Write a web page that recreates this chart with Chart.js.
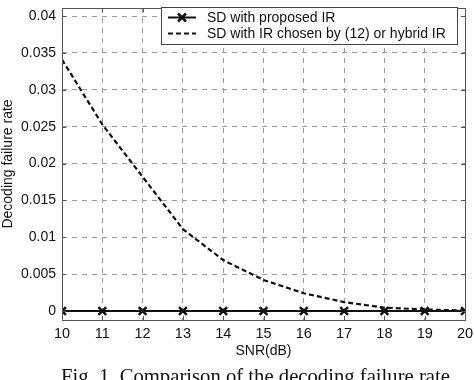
<!DOCTYPE html>
<html>
<head>
<meta charset="utf-8">
<script src="https://cdn.jsdelivr.net/npm/chart.js@4"></script>
<style>
  html, body { margin: 0; padding: 0; background: #fff; }
  #wrap { position: relative; width: 474px; height: 380px; }
</style>
</head>
<body>
<div id="wrap"><canvas id="grafico" width="474" height="380"></canvas></div>
<script>
// datos
const snr = [10, 11, 12, 13, 14, 15, 16, 17, 18, 19, 20];
const propuesto = [0, 0, 0, 0, 0, 0, 0, 0, 0, 0, 0];
const hibrido = [0.0341, 0.0253, 0.0182, 0.0111, 0.0069, 0.0042, 0.0024, 0.0012, 0.00045, 0.0002, 0.00005];
const yTicks = [0, 0.005, 0.01, 0.015, 0.02, 0.025, 0.03, 0.035, 0.04];
const yTickLabels = ['0', '0.005', '0.01', '0.015', '0.02', '0.025', '0.03', '0.035', '0.04'];
const leyendas = ['SD with proposed IR', 'SD with IR chosen by (12) or hybrid IR'];
const pie = 'Fig. 1. Comparison of the decoding failure rate';

const fuente = "'Liberation Sans', Arial, sans-serif";

// caja alrededor del area de la grafica y marcas hacia dentro (estilo matlab)
const cajaPlugin = {
    id: 'caja',
    afterDraw(chart) {
        const c = chart.ctx, a = chart.chartArea;
        const sx = chart.scales.x, sy = chart.scales.y;
        c.save();
        c.strokeStyle = '#555';
        c.lineWidth = 1;
        c.strokeRect(a.left + 0.5, a.top + 0.5, a.right - a.left, a.bottom - a.top);
        c.beginPath();
        yTicks.forEach(function(v) {
            const y = Math.round(sy.getPixelForValue(v)) + 0.5;
            c.moveTo(a.left, y); c.lineTo(a.left + 4, y);
            c.moveTo(a.right, y); c.lineTo(a.right - 4, y);
        });
        snr.forEach(function(v) {
            const x = Math.round(sx.getPixelForValue(v)) + 0.5;
            c.moveTo(x, a.bottom); c.lineTo(x, a.bottom - 4);
            c.moveTo(x, a.top); c.lineTo(x, a.top + 4);
        });
        c.stroke();
        c.restore();
    }
};

// leyenda dentro de la grafica
const leyendaPlugin = {
    id: 'leyendaDentro',
    afterDraw(chart) {
        const c = chart.ctx;
        c.save();
        c.fillStyle = '#fff';
        c.fillRect(161, 7, 296, 37);
        c.strokeStyle = '#444';
        c.lineWidth = 1;
        c.strokeRect(161.5, 7.5, 296, 37);
        c.font = '14px ' + fuente;
        c.textBaseline = 'middle';
        chart.data.datasets.forEach(function(ds, i) {
            const y = 17.5 + i * 16;
            c.strokeStyle = ds.borderColor;
            c.lineWidth = ds.borderWidth;
            c.setLineDash(ds.borderDash || []);
            c.beginPath();
            c.moveTo(168, y);
            c.lineTo(196, y);
            c.stroke();
            c.setLineDash([]);
            if (ds.pointStyle === 'crossRot') {
                c.lineWidth = 2.5;
                c.beginPath();
                c.moveTo(178, y - 4); c.lineTo(186, y + 4);
                c.moveTo(178, y + 4); c.lineTo(186, y - 4);
                c.stroke();
            }
            c.fillStyle = '#111';
            c.fillText(ds.label, 207, y + 1);
        });
        c.restore();
    }
};

// texto del pie de figura
const piePlugin = {
    id: 'pie',
    afterDraw(chart) {
        const c = chart.ctx;
        c.save();
        c.font = "20.7px 'Liberation Serif', 'Times New Roman', serif";
        c.fillStyle = '#111';
        c.textBaseline = 'alphabetic';
        c.fillText(pie, 61, 383);
        c.restore();
    }
};

const ctx = document.getElementById('grafico').getContext('2d');
const miGrafico = new Chart(ctx, {
    type: 'line',
    data: {
        labels: snr,
        datasets: [{
            label: leyendas[0],
            data: propuesto,
            borderColor: '#111',
            borderWidth: 2,
            pointStyle: 'crossRot',
            pointRadius: 5.5,
            pointBorderWidth: 2.5,
            pointBorderColor: '#111',
            fill: false,
            tension: 0
        }, {
            label: leyendas[1],
            data: hibrido,
            borderColor: '#111',
            borderWidth: 2.2,
            borderDash: [5, 3],
            pointRadius: 0,
            fill: false,
            tension: 0
        }]
    },
    options: {
        responsive: false,
        animation: false,
        layout: { padding: { left: 0, right: 9, top: 0, bottom: 20 } },
        plugins: {
            legend: { display: false },
            tooltip: { enabled: false }
        },
        scales: {
            x: {
                type: 'linear',
                min: 10,
                max: 20,
                afterBuildTicks: function(scale) {
                    scale.ticks = snr.map(v => ({ value: v }));
                },
                afterFit: function(scale) {
                    scale.height = 40;
                    scale.paddingLeft = 0;
                    scale.paddingRight = 0;
                },
                grid: { color: '#9a9a9a', drawTicks: false, lineWidth: 1 },
                border: { display: false, dash: [5, 5] },
                ticks: { color: '#111', font: { size: 14.5, family: fuente }, padding: 5, maxRotation: 0 },
                title: { display: true, text: 'SNR(dB)', color: '#111', font: { size: 14, family: fuente }, padding: { top: 0, bottom: 0 } }
            },
            y: {
                min: -0.00123,
                max: 0.0411,
                afterBuildTicks: function(scale) {
                    scale.ticks = yTicks.map(v => ({ value: v }));
                },
                afterFit: function(scale) {
                    scale.width = 62;
                    scale.paddingTop = 0;
                    scale.paddingBottom = 0;
                },
                grid: { color: '#9a9a9a', drawTicks: false, lineWidth: 1 },
                border: { display: false, dash: [5, 5] },
                ticks: {
                    color: '#111',
                    font: { size: 14, family: fuente },
                    padding: 6,
                    callback: function(v) {
                        const i = yTicks.indexOf(v);
                        return i >= 0 ? yTickLabels[i] : '';
                    }
                },
                title: { display: true, text: 'Decoding failure rate', color: '#111', font: { size: 14, family: fuente }, padding: { top: 0, bottom: 2 } }
            }
        }
    },
    plugins: [cajaPlugin, leyendaPlugin, piePlugin]
});
</script>
</body>
</html>
